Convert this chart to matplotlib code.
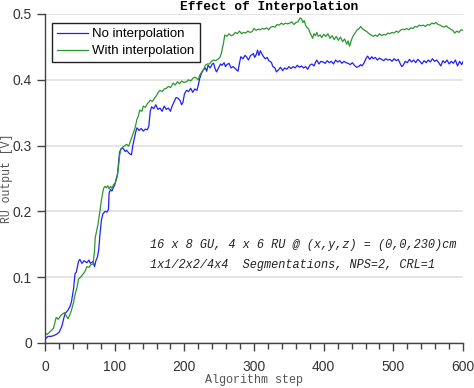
import matplotlib.pyplot as plt
import numpy as np

blue_steps = [0, 4, 8, 12, 16, 20, 24, 27, 29, 33, 36, 38, 41, 43, 45, 48, 50, 53, 56, 60,
              63, 65, 69, 71, 73, 75, 77, 79, 81, 83, 86, 89, 91, 92, 94, 96, 98, 100, 102, 104,
              105, 107, 109, 112, 115, 117, 120, 122, 124, 126, 128, 130, 132, 135, 138, 141, 144, 147, 149, 151,
              153, 156, 159, 162, 165, 168, 171, 174, 177, 180, 182, 185, 188, 191, 194, 196, 198, 200, 203, 206,
              209, 212, 215, 218, 220, 222, 225, 227, 230, 232, 234, 237, 240, 242, 244, 246, 249, 252, 254, 257,
              259, 261, 264, 267, 270, 273, 275, 277, 279, 281, 284, 287, 289, 292, 295, 297, 299, 301, 303, 305,
              307, 309, 311, 313, 316, 319, 321, 323, 325, 327, 330, 332, 335, 338, 341, 344, 347, 350, 353, 356,
              359, 362, 365, 368, 371, 374, 377, 380, 383, 386, 388, 390, 393, 396, 399, 402, 405, 408, 411, 414,
              417, 420, 423, 426, 429, 432, 435, 438, 441, 444, 447, 450, 453, 455, 458, 461, 463, 466, 469, 471,
              474, 477, 480, 483, 486, 489, 492, 495, 498, 501, 504, 507, 510, 512, 514, 517, 520, 523, 526, 529,
              532, 535, 538, 541, 544, 547, 550, 553, 556, 559, 562, 565, 568, 571, 574, 577, 580, 583, 586, 589,
              592, 595, 598, 600]
blue_vals = [0.005, 0.010, 0.010, 0.011, 0.013, 0.016, 0.025, 0.038, 0.045, 0.050, 0.056, 0.063, 0.083, 0.105, 0.108, 0.124, 0.127, 0.121, 0.125, 0.122,
             0.126, 0.121, 0.124, 0.116, 0.125, 0.130, 0.141, 0.167, 0.187, 0.196, 0.200, 0.199, 0.203, 0.228, 0.233, 0.231, 0.236, 0.240, 0.249, 0.256,
             0.268, 0.290, 0.295, 0.296, 0.291, 0.293, 0.289, 0.287, 0.286, 0.300, 0.310, 0.320, 0.327, 0.323, 0.326, 0.322, 0.325, 0.324, 0.330, 0.352,
             0.359, 0.356, 0.362, 0.355, 0.357, 0.352, 0.360, 0.355, 0.357, 0.352, 0.359, 0.366, 0.373, 0.372, 0.368, 0.362, 0.366, 0.378, 0.384, 0.382,
             0.387, 0.381, 0.386, 0.384, 0.392, 0.402, 0.411, 0.415, 0.418, 0.413, 0.422, 0.418, 0.424, 0.425, 0.417, 0.412, 0.418, 0.424, 0.422, 0.426,
             0.420, 0.423, 0.425, 0.418, 0.420, 0.417, 0.415, 0.413, 0.425, 0.435, 0.432, 0.437, 0.435, 0.430, 0.437, 0.438, 0.440, 0.434, 0.438, 0.445,
             0.437, 0.444, 0.440, 0.436, 0.432, 0.434, 0.429, 0.428, 0.426, 0.420, 0.418, 0.412, 0.415, 0.419, 0.414, 0.418, 0.416, 0.420, 0.417, 0.420,
             0.418, 0.422, 0.419, 0.421, 0.418, 0.420, 0.416, 0.422, 0.424, 0.421, 0.426, 0.430, 0.424, 0.428, 0.427, 0.425, 0.429, 0.426, 0.428, 0.424,
             0.430, 0.427, 0.429, 0.425, 0.428, 0.426, 0.425, 0.423, 0.426, 0.422, 0.419, 0.420, 0.423, 0.421, 0.426, 0.433, 0.436, 0.431, 0.435, 0.432,
             0.434, 0.430, 0.433, 0.431, 0.429, 0.432, 0.430, 0.431, 0.428, 0.432, 0.429, 0.431, 0.424, 0.420, 0.422, 0.428, 0.426, 0.431, 0.427, 0.430,
             0.426, 0.431, 0.428, 0.424, 0.429, 0.426, 0.430, 0.427, 0.432, 0.428, 0.430, 0.426, 0.421, 0.429, 0.426, 0.430, 0.424, 0.428, 0.425, 0.430,
             0.421, 0.428, 0.423, 0.428]

green_steps = [0, 3, 6, 9, 12, 14, 16, 19, 22, 25, 28, 30, 33, 36, 38, 41, 43, 46, 48, 51,
               54, 57, 60, 63, 66, 69, 71, 72, 74, 76, 79, 81, 84, 86, 88, 90, 92, 94, 96, 98,
               101, 103, 105, 107, 109, 112, 115, 117, 120, 122, 124, 127, 129, 132, 134, 136, 139, 141, 144, 147,
               149, 151, 154, 157, 160, 162, 165, 168, 171, 174, 177, 180, 184, 187, 190, 193, 196, 199, 203, 206,
               209, 212, 215, 218, 220, 222, 225, 227, 230, 233, 236, 239, 242, 245, 248, 251, 253, 255, 256, 258,
               261, 264, 267, 270, 273, 276, 279, 282, 285, 288, 291, 294, 297, 300, 303, 306, 309, 312, 315, 318,
               321, 324, 327, 330, 333, 336, 339, 342, 345, 348, 351, 354, 357, 360, 363, 366, 368, 370, 372, 374,
               376, 378, 380, 382, 384, 386, 388, 390, 392, 395, 397, 400, 403, 406, 409, 412, 415, 418, 421, 424,
               427, 430, 433, 435, 437, 439, 441, 443, 445, 448, 451, 453, 456, 459, 462, 465, 468, 471, 474, 477,
               480, 483, 486, 489, 492, 495, 498, 501, 504, 507, 510, 513, 516, 519, 522, 525, 528, 531, 534, 537,
               540, 543, 546, 549, 552, 555, 558, 561, 564, 567, 570, 573, 576, 579, 582, 585, 588, 591, 594, 597,
               600]
green_vals = [0.015, 0.013, 0.016, 0.019, 0.022, 0.030, 0.039, 0.036, 0.041, 0.044, 0.046, 0.042, 0.037, 0.044, 0.050, 0.062, 0.073, 0.085, 0.097, 0.100,
              0.104, 0.108, 0.116, 0.115, 0.119, 0.120, 0.140, 0.160, 0.170, 0.180, 0.202, 0.218, 0.235, 0.238, 0.236, 0.239, 0.234, 0.238, 0.235, 0.240,
              0.244, 0.250, 0.263, 0.285, 0.295, 0.298, 0.300, 0.302, 0.299, 0.305, 0.311, 0.320, 0.326, 0.340, 0.345, 0.354, 0.352, 0.360, 0.358, 0.364,
              0.366, 0.369, 0.367, 0.372, 0.376, 0.380, 0.384, 0.382, 0.386, 0.387, 0.390, 0.388, 0.395, 0.392, 0.397, 0.394, 0.398, 0.396, 0.397, 0.400,
              0.398, 0.402, 0.404, 0.402, 0.400, 0.407, 0.412, 0.414, 0.422, 0.424, 0.424, 0.428, 0.430, 0.429, 0.431, 0.434, 0.440, 0.450, 0.455, 0.468,
              0.466, 0.470, 0.467, 0.468, 0.472, 0.470, 0.474, 0.470, 0.472, 0.471, 0.474, 0.472, 0.473, 0.478, 0.475, 0.477, 0.476, 0.478, 0.477, 0.479,
              0.476, 0.480, 0.481, 0.480, 0.484, 0.483, 0.486, 0.484, 0.486, 0.485, 0.486, 0.488, 0.484, 0.487, 0.488, 0.494, 0.493, 0.487, 0.490, 0.483,
              0.479, 0.478, 0.472, 0.468, 0.463, 0.470, 0.467, 0.472, 0.466, 0.468, 0.464, 0.469, 0.466, 0.470, 0.463, 0.467, 0.461, 0.466, 0.460, 0.465,
              0.458, 0.462, 0.454, 0.459, 0.451, 0.458, 0.464, 0.468, 0.471, 0.476, 0.478, 0.481, 0.477, 0.475, 0.473, 0.470, 0.468, 0.466, 0.468, 0.466,
              0.470, 0.467, 0.469, 0.468, 0.471, 0.470, 0.472, 0.471, 0.474, 0.472, 0.475, 0.477, 0.476, 0.478, 0.476, 0.479, 0.478, 0.481, 0.480, 0.483,
              0.482, 0.483, 0.481, 0.484, 0.483, 0.486, 0.485, 0.487, 0.484, 0.483, 0.481, 0.480, 0.482, 0.479, 0.477, 0.475, 0.471, 0.474, 0.472, 0.476,
              0.475]

labels = ['No interpolation', 'With interpolation']
x_ticks = [0, 100, 200, 300, 400, 500, 600]
y_ticks = [0, 0.1, 0.2, 0.3, 0.4, 0.5]
note_lines = ['16 x 8 GU, 4 x 6 RU @ (x,y,z) = (0,0,230)cm',
              '1x1/2x2/4x4  Segmentations, NPS=2, CRL=1']

plt.rcParams['font.family'] = ['Liberation Sans', 'DejaVu Sans']
mono = 'Liberation Mono'

fig = plt.figure(figsize=(4.74, 3.88), dpi=100)
ax = fig.add_axes([0.095, 0.116, 0.882, 0.848])

ax.plot(blue_steps, blue_vals, color='#1f1fff', lw=0.9, label=labels[0])
ax.plot(green_steps, green_vals, color='#2e962e', lw=0.9, label=labels[1])

ax.set_xlim(0, 600)
ax.set_ylim(0, 0.5)
ax.set_xticks(x_ticks)
ax.set_xticks(np.arange(0, 601, 20), minor=True)
ax.set_yticks(y_ticks)
ax.set_yticklabels(['0', '0.1', '0.2', '0.3', '0.4', '0.5'])
ax.yaxis.grid(True, color='#e3e3e3', lw=1.3)
ax.set_axisbelow(True)

for s in ['top', 'right']:
    ax.spines[s].set_visible(False)
for s in ['left', 'bottom']:
    ax.spines[s].set_color('#444444')
    ax.spines[s].set_linewidth(1.0)
ax.tick_params(axis='both', which='major', direction='out', length=6, width=1.0,
               colors='#444444', labelsize=10, labelcolor='#333333')
ax.tick_params(axis='x', which='minor', direction='out', length=4, width=1.0, colors='#444444')
ax.tick_params(axis='x', pad=6)

ax.set_title('Effect of Interpolation', fontfamily=mono, fontweight='bold',
             fontsize=9.3, pad=3, x=0.536)
ax.set_xlabel('Algorithm step', fontfamily=mono, fontsize=8.5, color='#555555', labelpad=0)
ax.set_ylabel('RU output [V]', fontfamily=mono, fontsize=8.3, color='#555555')
ax.yaxis.set_label_coords(-0.076, 0.5)

ax.text(151, 0.149, note_lines[0], fontfamily=mono, style='italic', va='center',
        fontsize=8.6, color='#222222')
ax.text(151, 0.119, note_lines[1], fontfamily=mono, style='italic', va='center',
        fontsize=8.6, color='#222222')

leg = ax.legend(loc='upper left', bbox_to_anchor=(0.017, 0.973), fontsize=9.5,
                fancybox=False, edgecolor='#222222', framealpha=1,
                handlelength=2.3, handletextpad=0.35, borderpad=0.4, labelspacing=0.35,
                borderaxespad=0)
leg.get_frame().set_linewidth(1.0)

fig.savefig('out.png', dpi=100)
